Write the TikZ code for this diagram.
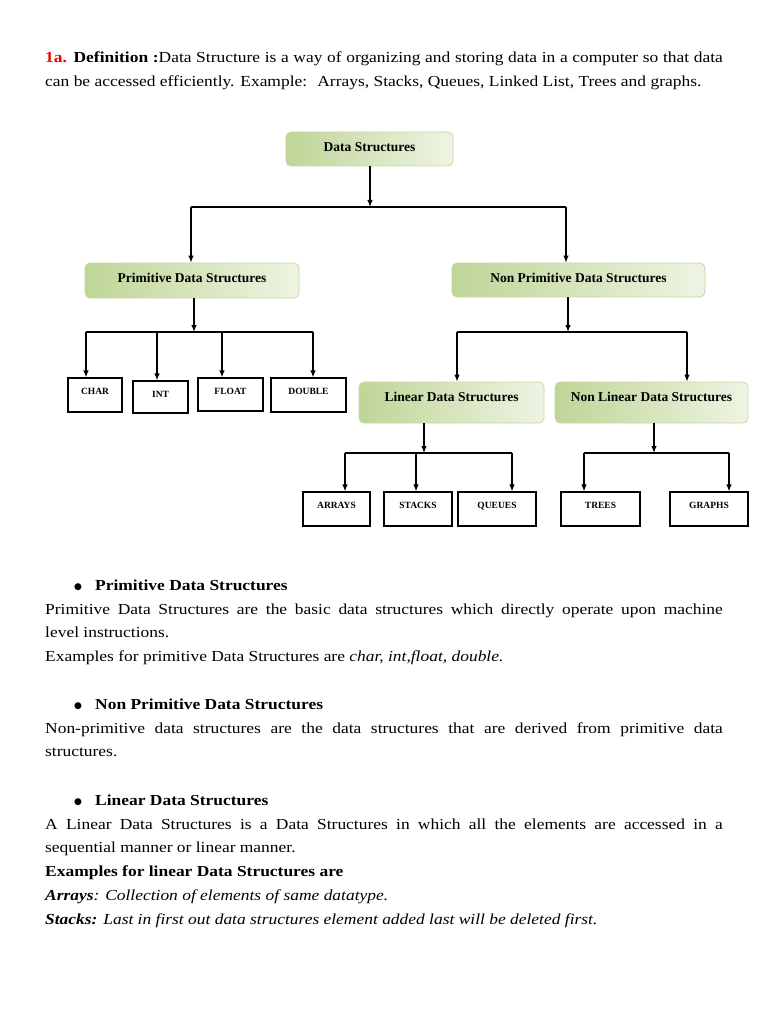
\documentclass[tikz,border=0pt]{standalone}
\usepackage{fontspec}
\setmainfont{Liberation Serif}
\newfontfamily\bodyfont{Liberation Serif}[FakeStretch=1.14]
\newfontfamily\symfont{DejaVu Sans}
\usetikzlibrary{arrows.meta}
\definecolor{boxdark}{HTML}{BFD597}
\definecolor{boxlight}{HTML}{EEF4E3}
\definecolor{boxline}{HTML}{C6DAA3}
\definecolor{numred}{HTML}{F20000}
\hyphenpenalty=10000
\begin{document}
\begin{tikzpicture}[x=1pt,y=-1pt]
			\tikzset{greenbox/.style={rounded corners=5pt, draw=boxline, line width=0.8pt, left color=boxdark, right color=boxlight, inner sep=0pt, text height=19.5pt, text depth=14.5pt, font=\bfseries\fontsize{13.5}{16}\selectfont}}
			\tikzset{typebox/.style={draw=black, line width=1.1pt, fill=white, inner sep=0pt, text height=16pt, text depth=18pt, font=\bfseries\fontsize{9.5}{11}\selectfont}}
			\tikzset{arr/.style={-{Latex[length=7pt,width=5.5pt]}, line width=1.2pt}}
			\tikzset{bar/.style={line width=1.2pt}}
			\tikzset{para/.style={anchor=base west, inner sep=0pt, text width=677.6pt, align=justify, font=\bodyfont\fontsize{15.3}{23.8}\selectfont}}
			\tikzset{head/.style={anchor=base west, inner sep=0pt, font=\bodyfont\bfseries\fontsize{15.3}{18}\selectfont}}
			\tikzset{dot/.style={anchor=base, inner sep=0pt, font=\symfont\fontsize{9}{11}\selectfont}}

			\path[fill=white] (0,0) rectangle (768,1024);
			\useasboundingbox (0,0) rectangle (768,1024);

			\node[para] at (45, 62.5) (def) {\textbf{\color{numred}1a.} \textbf{Definition :}Data Structure is a way of organizing and storing data in a computer so that data\linebreak can be accessed efficiently. Example:~ Arrays, Stacks, Queues, Linked List, Trees and graphs.};

			\node[greenbox, minimum width=167pt] at (369.5, 149) (ds) {Data Structures};
			\node[greenbox, minimum width=214pt, text depth=15.5pt] at (192, 280.5) (prim) {Primitive Data Structures};
			\node[greenbox, minimum width=253pt] at (578.5, 280) (np) {Non Primitive Data Structures};
			\node[greenbox, minimum width=185pt, text height=19pt, text depth=22pt] at (451.5, 402.5) (lin) {Linear Data Structures};
			\node[greenbox, minimum width=193pt, text height=19pt, text depth=22pt] at (651.5, 402.5) (nlin) {Non Linear Data Structures};

			\node[typebox, minimum width=54pt] at (95, 395) (char) {CHAR};
			\node[typebox, minimum width=55pt, text depth=16pt] at (160.5, 397) (int) {INT};
			\node[typebox, minimum width=65pt, text depth=17pt] at (230.5, 394.5) (float) {FLOAT};
			\node[typebox, minimum width=75pt] at (308.5, 395) (double) {DOUBLE};
			\node[typebox, minimum width=67pt] at (336.5, 509) (arrays) {ARRAYS};
			\node[typebox, minimum width=68pt] at (418, 509) (stacks) {STACKS};
			\node[typebox, minimum width=78pt] at (497, 509) (queues) {QUEUES};
			\node[typebox, minimum width=79pt] at (600.5, 509) (trees) {TREES};
			\node[typebox, minimum width=78pt] at (709, 509) (graphs) {GRAPHS};

			\coordinate (jDs) at (370, 207);
			\coordinate (jPrim) at (191, 207);
			\coordinate (jNp) at (566, 207);
			\draw [arr] (ds.south -| jDs) -- (jDs);
			\draw [bar] (jPrim) -- (jNp);
			\draw [arr] (jPrim) -- (jPrim |- prim.north);
			\draw [arr] (jNp) -- (jNp |- np.north);

			\coordinate (tPrim) at (194, 332);
			\coordinate (jChar) at (86, 332);
			\coordinate (jInt) at (157, 332);
			\coordinate (jFloat) at (222, 332);
			\coordinate (jDouble) at (313, 332);
			\draw [arr] (prim.south -| tPrim) -- (tPrim);
			\draw [bar] (jChar) -- (jDouble);
			\draw [arr] (jChar) -- (jChar |- char.north);
			\draw [arr] (jInt) -- (jInt |- int.north);
			\draw [arr] (jFloat) -- (jFloat |- float.north);
			\draw [arr] (jDouble) -- (jDouble |- double.north);

			\coordinate (tNp) at (568, 332);
			\coordinate (jLin) at (457, 332);
			\coordinate (jNlin) at (687, 332);
			\draw [arr] (np.south -| tNp) -- (tNp);
			\draw [bar] (jLin) -- (jNlin);
			\draw [arr] (jLin) -- (jLin |- lin.north);
			\draw [arr] (jNlin) -- (jNlin |- nlin.north);

			\coordinate (tLin) at (424, 453);
			\coordinate (jArrays) at (345, 453);
			\coordinate (jStacks) at (416, 453);
			\coordinate (jQueues) at (512, 453);
			\draw [arr] (lin.south -| tLin) -- (tLin);
			\draw [bar] (jArrays) -- (jQueues);
			\draw [arr] (jArrays) -- (jArrays |- arrays.north);
			\draw [arr] (jStacks) -- (jStacks |- stacks.north);
			\draw [arr] (jQueues) -- (jQueues |- queues.north);

			\coordinate (tNlin) at (654, 453);
			\coordinate (jTrees) at (584, 453);
			\coordinate (jGraphs) at (729, 453);
			\draw [arr] (nlin.south -| tNlin) -- (tNlin);
			\draw [bar] (jTrees) -- (jGraphs);
			\draw [arr] (jTrees) -- (jTrees |- trees.north);
			\draw [arr] (jGraphs) -- (jGraphs |- graphs.north);

			\node[dot] at (78, 589.5) (dotPrim) {●};
			\node[head] at (95, 590) (hPrim) {Primitive Data Structures};
			\node[para] at (45, 614) (pPrim) {Primitive Data Structures are the basic data structures which directly operate upon machine\linebreak level instructions.\\ Examples for primitive Data Structures are \textit{char, int,float, double.}};

			\node[dot] at (78, 708.5) (dotNp) {●};
			\node[head] at (95, 709) (hNp) {Non Primitive Data Structures};
			\node[para] at (45, 733) (pNp) {Non-primitive data structures are the data structures that are derived from primitive data\linebreak structures.};

			\node[dot] at (78, 804.5) (dotLin) {●};
			\node[head] at (95, 805) (hLin) {Linear Data Structures};
			\node[para] at (45, 829) (pLin) {A Linear Data Structures is a Data Structures in which all the elements are accessed in a\linebreak sequential manner or linear manner.\\ \textbf{Examples for linear Data Structures are}\\ \textbf{\textit{Arrays}}\textit{: Collection of elements of same datatype.}\\ \textbf{\textit{Stacks:}}\textit{ Last in first out data structures element added last will be deleted first.}};
		\end{tikzpicture}
\end{document}
